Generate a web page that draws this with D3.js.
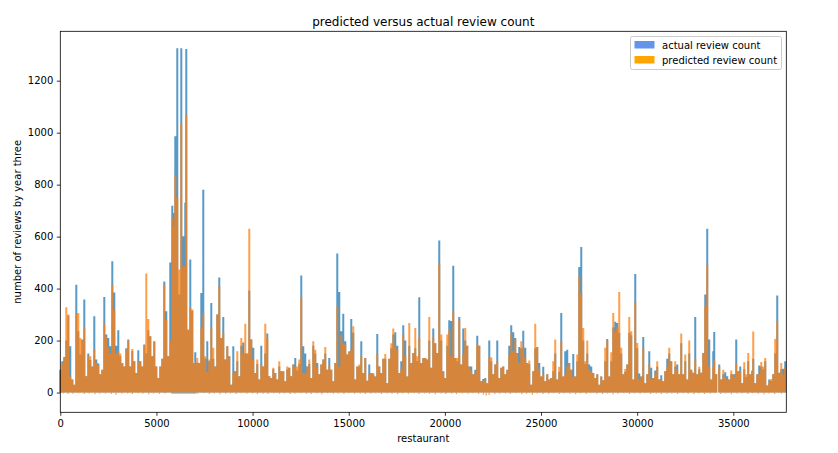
<!DOCTYPE html>
<html>
<head>
<meta charset="utf-8">
<script src="https://cdn.jsdelivr.net/npm/d3@7"></script>
<style>
  html, body { margin: 0; padding: 0; background: #fff; }
  text { font-family: "DejaVu Sans", sans-serif; fill: #000; }
</style>
</head>
<body>
<div id="chart"></div>
<script>
// restaurant index of each sample
const restaurantIds = [
  ...d3.range(0, 5800, 104),
  5824, 5876, 5980, 6084, 6188, 6292, 6396, 6500, 6552, 6656,
  6760, 6864, 6968, 7020, 7124, 7228, 7332, 7436, 7540, 7644,
  7748, 7852, 7956, 8060, 8164, 8268, 8372, 8476, 8580,
  ...d3.range(8684, 32800, 104),
  32812, 32916, 33020, 33124, 33228, 33332, 33436, 33540, 33644, 33748,
  33852, 33956, 34008, 34112, 34268, 34372, 34476, 34580, 34684, 34788,
  34892, 34996, 35100, 35152, 35256, 35360, 35464, 35568, 35672, 35776,
  35880, 35984, 36036, 36140, 36244, 36348, 36452, 36556, 36660, 36764,
  36868, 36972, 37076, 37180, 37284, 37388, 37492, 37596, 37700
]

const actualCounts = [
  88, 120, 137, 200, 296, 178, 50, 30, 415, 236,
  146, 204, 358, 63, 150, 125, 100, 294, 127, 112,
  70, 88, 368, 223, 210, 178, 505, 385, 180, 240,
  140, 114, 100, 170, 204, 100, 160, 120, 75, 163,
  120, 100, 185, 150, 240, 217, 140, 197, 100, 56,
  100, 130, 427, 313, 140, 500,
  719, 691, 986, 1325, 377, 1325, 601, 730, 1322, 242,
  512, 315, 114, 155, 115, 114, 383, 780, 130, 197,
  120, 345, 130, 100, 300, 443, 210, 291, 127,
  178, 140, 30, 178, 82, 120, 63, 180, 193, 150,
  150, 393, 204, 172, 75, 110, 50, 180, 100, 150,
  227, 63, 56, 90, 75, 50, 100, 82, 82, 43,
  90, 95, 63, 108, 133, 85, 110, 450, 178, 150,
  100, 110, 56, 180, 150, 114, 70, 108, 127, 150,
  88, 133, 88, 43, 114, 535, 387, 236, 303, 197,
  146, 159, 283, 230, 50, 100, 100, 197, 75, 133,
  45, 108, 75, 70, 62, 225, 100, 75, 130, 130,
  36, 130, 170, 223, 232, 180, 75, 120, 259, 200,
  62, 180, 114, 152, 170, 120, 367, 114, 133, 133,
  127, 200, 95, 246, 190, 152, 585, 200, 82, 56,
  180, 278, 275, 488, 133, 120, 291, 108, 246, 200,
  180, 100, 100, 70, 88, 219, 180, 43, 52, 56,
  36, 200, 120, 70, 108, 200, 56, 95, 100, 70,
  88, 180, 259, 232, 210, 152, 175, 170, 238, 172,
  114, 110, 30, 82, 170, 175, 114, 62, 99, 43,
  70, 50, 56, 82, 150, 50, 80, 306, 62, 159,
  165, 114, 88, 148, 62, 120, 483, 560, 200, 110,
  150, 108, 100, 75, 56, 70, 30, 62, 47, 120,
  206, 62, 120, 250, 272, 268, 230, 150, 70, 80,
  108, 230, 220, 50, 456, 170, 73, 62, 214, 36,
  70, 159, 95, 56, 85, 100, 50, 67, 43, 82,
  130, 150, 120, 70, 100, 108, 70, 190, 70, 120,
  50, 150,
  88, 76, 291, 70, 90, 76, 152, 377, 630, 204,
  50, 159, 233, 70, 108, 50, 70, 78, 63, 50,
  70, 70, 70, 204, 82, 100, 36, 90, 60, 120,
  70, 85, 130, 36, 70, 104, 100, 90, 120, 27,
  50, 45, 70, 150, 373, 76, 90, 92, 120
]

const predictedCounts = [
  85, 114, 133, 328, 300, 63, 50, 30, 304, 306,
  210, 200, 249, 63, 140, 140, 100, 168, 115, 105,
  70, 88, 268, 215, 175, 150, 415, 319, 150, 160,
  150, 114, 100, 168, 200, 100, 168, 120, 75, 120,
  120, 100, 180, 458, 283, 217, 140, 195, 100, 56,
  100, 130, 415, 280, 140, 200,
  672, 640, 838, 749, 473, 1035, 486, 486, 1069, 242,
  326, 320, 114, 110, 133, 114, 250, 306, 140, 80,
  127, 250, 172, 100, 300, 409, 210, 230, 127,
  178, 140, 30, 75, 82, 159, 63, 210, 150, 265,
  150, 630, 204, 127, 75, 127, 50, 108, 100, 265,
  210, 63, 56, 95, 75, 50, 120, 82, 82, 43,
  100, 95, 63, 108, 100, 100, 127, 367, 75, 75,
  100, 127, 56, 197, 165, 100, 70, 108, 127, 175,
  88, 104, 88, 43, 114, 332, 100, 223, 190, 185,
  146, 156, 165, 255, 50, 100, 108, 140, 75, 133,
  45, 75, 75, 75, 62, 152, 100, 75, 130, 148,
  36, 130, 190, 246, 178, 165, 75, 90, 223, 140,
  62, 268, 114, 152, 248, 140, 210, 114, 133, 133,
  127, 291, 95, 210, 190, 152, 496, 223, 82, 56,
  223, 242, 140, 313, 133, 133, 283, 108, 146, 248,
  180, 100, 85, 70, 75, 185, 180, 43, 45, 50,
  36, 133, 136, 70, 108, 120, 56, 95, 100, 70,
  88, 146, 227, 160, 204, 152, 114, 197, 175, 133,
  114, 123, 30, 82, 265, 175, 90, 62, 70, 43,
  70, 50, 56, 120, 204, 50, 99, 197, 62, 70,
  100, 114, 88, 62, 62, 146, 450, 383, 248, 120,
  200, 90, 80, 75, 56, 70, 30, 62, 47, 172,
  200, 62, 155, 306, 235, 250, 387, 172, 70, 91,
  108, 291, 236, 50, 347, 191, 50, 62, 170, 36,
  70, 108, 50, 56, 75, 120, 50, 50, 43, 82,
  100, 172, 120, 70, 120, 90, 70, 227, 70, 146,
  50, 200,
  88, 76, 130, 70, 99, 76, 152, 332, 492, 100,
  50, 100, 127, 70, 99, 50, 88, 60, 50, 50,
  85, 70, 60, 112, 82, 82, 36, 117, 70, 152,
  70, 80, 235, 36, 70, 70, 118, 100, 133, 27,
  40, 52, 70, 206, 274, 76, 114, 70, 95
]

// the thin fringes that drop under zero
const predictedDipIds = [
  150, 400, 650, 950, 1250, 1500, 1800, 2050, 2350, 2650,
  2900, 3200, 3500, 3750, 4050, 4300, 4600, 4850, 5150, 5450,
  7150, 7450, 7750, 8000, 8300, 8600, 8850, 9150, 9400, 9700,
  10000, 10250, 10550, 10800, 11100, 11400, 11650, 11950, 12200, 12500,
  12800, 13050, 13350, 13600, 13900, 14200, 14450, 14750, 15000, 15300,
  15600, 15850, 16150, 16400, 16700, 17000, 17250, 17550, 17800, 18100,
  18400, 18650, 18950, 19200, 19500, 19800, 20050, 20350, 20600, 20900,
  21200, 21450, 21750, 22000, 22150, 22300, 22600, 22850, 23150, 23400,
  23700, 24000, 24250, 24550, 24800, 25100, 25400, 25650, 25950, 26200,
  26500, 26800, 27050, 27350, 27600, 27900, 28200, 28450, 28750, 29000,
  29300, 29600, 29850, 30150, 30400, 30700, 31000, 31250, 31550, 31800,
  32100, 32400, 32650, 32950, 33200, 33500, 33800, 34050, 34350, 34600,
  34900, 35200, 35450, 35750, 36000, 36300, 36600, 36850, 37150, 37500
]
const predictedDips = [
  -4, -6, -5, -3, -6, -4, -7, -5, -4, -6,
  -8, -5, -4, -6, -3, -5, -7, -4, -6, -4,
  -5, -3, -6, -4, -7, -5, -4, -6, -3, -5,
  -4, -7, -5, -6, -3, -5, -4, -6, -5, -3,
  -5, -6, -4, -7, -3, -5, -4, -6, -3, -5,
  -4, -6, -5, -3, -6, -4, -5, -7, -4, -5,
  -3, -6, -4, -5, -7, -4, -6, -5, -7, -4,
  -5, -3, -6, -8, -12, -9, -6, -5, -4, -6,
  -3, -7, -5, -8, -4, -6, -5, -3, -6, -4,
  -5, -7, -4, -6, -3, -5, -6, -4, -7, -5,
  -3, -6, -4, -5, -3, -6, -4, -7, -5, -4,
  -6, -3, -5, -7, -4, -6, -5, -3, -6, -4,
  -7, -5, -4, -6, -3, -5, -7, -4, -6, -5
]
const actualDipIds = d3.range(5800, 7100, 52)
const actualDipDepth = -4

const xTicks = [0, 5000, 10000, 15000, 20000, 25000, 30000, 35000]
const yTicks = [0, 200, 400, 600, 800, 1000, 1200]
const legendLabels = ['actual review count', 'predicted review count']
const legendColors = ['#6495ed', 'orange']

const width = 838
const height = 453
const plot = { left: 60.3, right: 786.3, top: 31.3, bottom: 412.3 }

const svg = d3.select('#chart')
  .append('svg')
  .attr('width', width)
  .attr('height', height)
  .style('display', 'block')

const x = d3.scaleLinear().domain([0, 37755]).range([plot.left, plot.right])
const y = d3.scaleLinear().domain([-76, 1390]).range([plot.bottom, plot.top])

// a spike per sample, broken between samples so nothing gets drawn diagonally
const line = d3.line()
  .defined((d) => d[1] !== null)
  .x((d) => x(d[0]))
  .y((d) => y(d[1]))

function spikes (ids, values) {
  return ids.flatMap((id, i) => [[id, 0], [id, values[i]], [id, null]])
}

function drawSeries (ids, values, color, lineWidth) {
  svg.append('path')
    .attr('d', line(spikes(ids, values)))
    .attr('fill', 'none')
    .attr('stroke', color)
    .attr('stroke-opacity', 0.75)
    .attr('stroke-width', lineWidth)
}

drawSeries(restaurantIds, actualCounts, '#1f77b4', 2)
drawSeries(actualDipIds, actualDipIds.map(() => actualDipDepth), '#1f77b4', 1.2)
drawSeries(predictedDipIds, predictedDips, '#ff7f0e', 1.2)
drawSeries(restaurantIds, predictedCounts, '#ff7f0e', 2)

// axes
const xAxis = svg.append('g')
  .attr('transform', `translate(0,${plot.bottom})`)
  .call(d3.axisBottom(x).tickValues(xTicks).tickFormat(d3.format('d')).tickSize(3.5).tickPadding(4.5))
const yAxis = svg.append('g')
  .attr('transform', `translate(${plot.left},0)`)
  .call(d3.axisLeft(y).tickValues(yTicks).tickFormat(d3.format('d')).tickSize(3.5).tickPadding(3.5))

;[xAxis, yAxis].forEach((axis) => {
  axis.select('.domain').remove()
  axis.selectAll('.tick line').attr('stroke', '#000').attr('stroke-width', 0.8)
  axis.selectAll('.tick text').attr('font-size', 10).attr('font-family', '"DejaVu Sans", sans-serif').attr('fill', '#000')
})

svg.append('rect')
  .attr('x', plot.left)
  .attr('y', plot.top)
  .attr('width', plot.right - plot.left)
  .attr('height', plot.bottom - plot.top)
  .attr('fill', 'none')
  .attr('stroke', '#000')
  .attr('stroke-width', 0.8)

// titles
svg.append('text')
  .attr('x', (plot.left + plot.right) / 2)
  .attr('y', 26)
  .attr('text-anchor', 'middle')
  .attr('font-size', 12)
  .text('predicted versus actual review count')
svg.append('text')
  .attr('x', (plot.left + plot.right) / 2)
  .attr('y', 442)
  .attr('text-anchor', 'middle')
  .attr('font-size', 10)
  .text('restaurant')
svg.append('text')
  .attr('transform', `translate(21,${(plot.top + plot.bottom) / 2}) rotate(-90)`)
  .attr('text-anchor', 'middle')
  .attr('font-size', 10)
  .text('number of reviews by year three')

// legend
const legend = svg.append('g')
legend.append('rect')
  .attr('x', 630.5)
  .attr('y', 36.5)
  .attr('width', 151)
  .attr('height', 33)
  .attr('rx', 2)
  .attr('fill', '#fff')
  .attr('fill-opacity', 0.8)
  .attr('stroke', '#ccc')
  .attr('stroke-width', 1)

legendLabels.forEach((label, i) => {
  legend.append('rect')
    .attr('x', 634.5)
    .attr('y', 41 + i * 15)
    .attr('width', 20)
    .attr('height', 7.5)
    .attr('fill', legendColors[i])
  legend.append('text')
    .attr('x', 662)
    .attr('y', 49 + i * 15)
    .attr('font-size', 10)
    .text(label)
})
</script>
</body>
</html>
